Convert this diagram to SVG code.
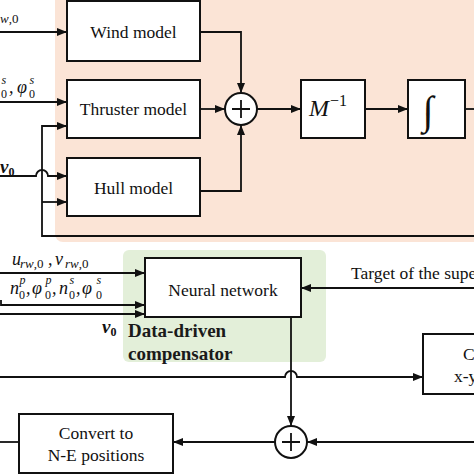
<svg xmlns="http://www.w3.org/2000/svg" width="474" height="474" viewBox="0 0 474 474">
<defs>
<style>
.box{fill:#fff;stroke:#111;stroke-width:2}
.ln{fill:none;stroke:#111;stroke-width:1.8}
.arr{marker-end:url(#ah)}
.lbl{font-family:"Liberation Serif","Times New Roman",serif;font-size:17.5px;fill:#111;text-anchor:middle}
.math{font-family:"Liberation Serif","Times New Roman",serif;font-style:italic;font-size:18px;fill:#111}
.sub{font-size:12px}
.up{font-style:normal}
.bold{font-family:"Liberation Serif","Times New Roman",serif;font-weight:bold;font-size:19px;fill:#1a1a1a}
</style>
<marker id="ah" markerUnits="userSpaceOnUse" markerWidth="11" markerHeight="8" refX="10" refY="4" orient="auto">
<path d="M0,0 L10,4 L0,8 z" fill="#111"/>
</marker>
</defs>
<rect width="474" height="474" fill="#fff"/>
<g id="physics-region"><rect x="55" y="-10" width="440" height="252" rx="8" fill="#fbe4d6"/></g>
<g id="compensator-region"><rect x="123" y="250" width="203" height="112" rx="6" fill="#e3efd9"/>
<text class="bold" x="128" y="337">Data-driven</text>
<text class="bold" x="128" y="360">compensator</text></g>

<g id="connectors">
<path class="ln arr" d="M0,32 H67"/>
<path class="ln arr" d="M0,102 H67"/>
<path class="ln arr" d="M474,236 H42 V126 H67"/>
<path class="ln arr" d="M42,202 H67"/>
<path class="ln arr" d="M0,176 H36 a6,6 0 0 1 12,0 H67"/>
<path class="ln arr" d="M200,32 H241 V93"/>
<path class="ln arr" d="M200,109 H225"/>
<path class="ln arr" d="M200,191 H241 V125"/>
<path class="ln arr" d="M257,109 H301"/>
<path class="ln arr" d="M365,109 H408"/>
<path class="ln" d="M465,109 H474"/>
<path class="ln arr" d="M0,273 H145"/>
<path class="ln arr" d="M1,300 V305 H145"/>
<path class="ln arr" d="M0,314 H145"/>
<path class="ln arr" d="M474,288 H301"/>
<path class="ln arr" d="M0,377 H285 a6,6 0 0 1 12,0 H423"/>
<path class="ln arr" d="M291,317 V426"/>
<path class="ln arr" d="M474,442 H307"/>
<path class="ln arr" d="M275,442 H173"/>
<path class="ln" d="M19,442 H0"/>
</g>

<g id="wind-model"><rect class="box" x="67" y="1" width="133" height="60"/><text class="lbl" x="133.5" y="38">Wind model</text></g>
<g id="thruster-model"><rect class="box" x="67" y="80" width="133" height="58"/><text class="lbl" x="133.5" y="115">Thruster model</text></g>
<g id="hull-model"><rect class="box" x="67" y="158" width="133" height="58"/><text class="lbl" x="133.5" y="194">Hull model</text></g>
<g id="sum-1"><circle class="box" cx="241" cy="109" r="16"/><path class="ln" d="M232,109 H250 M241,100 V118"/></g>
<g id="inverse-mass"><rect class="box" x="301" y="80" width="64" height="58"/><text class="math" x="309" y="116" style="font-size:24px">M<tspan class="up" x="330" y="106" font-size="16">−1</tspan></text></g>
<g id="integrator"><rect class="box" x="408" y="80" width="57" height="58"/><text class="math" x="428" y="124" style="font-size:40px;text-anchor:middle">∫</text></g>

<g id="neural-network"><rect class="box" x="145" y="258" width="156" height="59"/><text class="lbl" x="223" y="296">Neural network</text></g>
<g id="convert-xy"><rect class="box" x="423" y="334" width="70" height="60"/><text class="lbl" x="463" y="360" style="text-anchor:start">C</text><text class="lbl" x="454" y="382" style="text-anchor:start">x-y</text></g>
<g id="sum-2"><circle class="box" cx="291" cy="442" r="16"/><path class="ln" d="M282,442 H300 M291,433 V451"/></g>
<g id="convert-ne"><rect class="box" x="19" y="414" width="154" height="59"/><text class="lbl" x="96" y="439">Convert to</text><text class="lbl" x="96" y="461">N-E positions</text></g>

<g id="labels">
<text class="math sub" x="0" y="23" style="font-size:13px">w<tspan class="up">,0</tspan></text>
<text class="math" y="93"><tspan class="sub up" x="1" y="98">0</tspan><tspan class="sub" x="1.5" y="84">s</tspan><tspan x="9" y="93">,</tspan><tspan x="17" y="93">φ</tspan><tspan class="sub up" x="29" y="98">0</tspan><tspan class="sub" x="29.5" y="84">s</tspan></text>
<text class="math" x="0" y="173" style="font-weight:bold;font-size:19px">ν<tspan class="sub up" dy="3">0</tspan></text>

<text class="math" y="265"><tspan x="12">u</tspan><tspan class="sub" x="20" y="268" style="font-size:13px">rw<tspan class="up">,0</tspan></tspan><tspan x="48" y="265">,</tspan><tspan x="55">v</tspan><tspan class="sub" x="65" y="268" style="font-size:13px">rw<tspan class="up">,0</tspan></tspan></text>

<text class="math" y="294"><tspan x="10">n</tspan><tspan class="sub up" x="19" y="299">0</tspan><tspan class="sub" x="19.5" y="284">p</tspan><tspan x="26" y="294">,</tspan><tspan x="32" y="294">φ</tspan><tspan class="sub up" x="45" y="299">0</tspan><tspan class="sub" x="45.5" y="284">p</tspan><tspan x="52" y="294">,</tspan><tspan x="59" y="294">n</tspan><tspan class="sub up" x="69" y="299">0</tspan><tspan class="sub" x="69.5" y="284">s</tspan><tspan x="76" y="294">,</tspan><tspan x="82" y="294">φ</tspan><tspan class="sub up" x="96" y="299">0</tspan><tspan class="sub" x="96.5" y="284">s</tspan></text>

<text class="math" x="102" y="333" style="font-weight:bold;font-size:19px">ν<tspan class="sub up" dy="3">0</tspan></text>
<text class="lbl" x="351" y="279" style="text-anchor:start">Target of the supe</text>
</g>
</svg>
